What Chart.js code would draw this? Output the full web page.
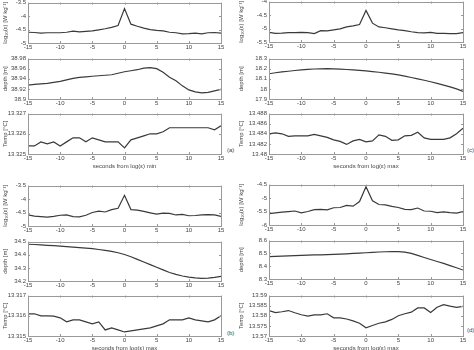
<!DOCTYPE html>
<html>
<head>
<meta charset="utf-8">
<script src="https://cdn.jsdelivr.net/npm/chart.js@4.4.1/dist/chart.umd.min.js"></script>
<style>
  body { margin: 0; background: #fff; }
  #wrap { position: relative; width: 474px; height: 350px; overflow: hidden; }
  canvas { position: absolute; }
  .tag { position: absolute; font: 6px "Liberation Sans", Arial, sans-serif; color: #444; }
</style>
</head>
<body>
<div id="wrap">
  <div class="tag" style="left:227px;top:147px">(a)</div>
  <div class="tag" style="left:227px;top:330px">(b)</div>
  <div class="tag" style="left:467px;top:147px">(c)</div>
  <div class="tag" style="left:467px;top:327px">(d)</div>
</div>
<script>
// seconds relative to the epsilon extreme
var seconds = [-15,-14,-13,-12,-11,-10,-9,-8,-7,-6,-5,-4,-3,-2,-1,0,1,2,3,4,5,6,7,8,9,10,11,12,13,14,15];

// (a) log(eps) min
var epsA = [-4.60,-4.61,-4.63,-4.62,-4.62,-4.62,-4.60,-4.56,-4.59,-4.57,-4.55,-4.51,-4.47,-4.42,-4.35,-3.72,-4.30,-4.38,-4.45,-4.50,-4.53,-4.55,-4.60,-4.62,-4.66,-4.65,-4.63,-4.66,-4.62,-4.61,-4.63];
var depthA = [38.9275,38.929,38.930,38.931,38.933,38.935,38.938,38.941,38.943,38.944,38.945,38.946,38.947,38.948,38.951,38.954,38.956,38.958,38.961,38.962,38.960,38.953,38.943,38.936,38.926,38.918,38.914,38.912,38.913,38.916,38.919];
var tempA = [13.3254,13.3254,13.3256,13.3255,13.3256,13.3254,13.3256,13.3258,13.3258,13.3256,13.3258,13.3257,13.3256,13.3256,13.3256,13.3253,13.3257,13.3258,13.3259,13.3260,13.3260,13.3261,13.3263,13.3263,13.3263,13.3263,13.3263,13.3263,13.3263,13.3262,13.3264];

// (b) log(eps) max
var epsB = [-4.59,-4.63,-4.65,-4.67,-4.64,-4.60,-4.59,-4.65,-4.66,-4.60,-4.50,-4.45,-4.48,-4.39,-4.34,-3.86,-4.39,-4.41,-4.46,-4.51,-4.56,-4.52,-4.53,-4.59,-4.57,-4.62,-4.61,-4.59,-4.58,-4.59,-4.64];
var depthB = [34.480,34.478,34.475,34.472,34.469,34.466,34.462,34.458,34.454,34.450,34.446,34.440,34.433,34.425,34.415,34.402,34.385,34.365,34.345,34.325,34.305,34.285,34.265,34.250,34.238,34.230,34.224,34.220,34.222,34.227,34.235];
var tempB = [13.3161,13.3161,13.3160,13.3160,13.31598,13.3159,13.3157,13.3158,13.3158,13.3157,13.3156,13.3157,13.3153,13.3154,13.3153,13.3152,13.31525,13.3153,13.31535,13.3154,13.3155,13.3156,13.3158,13.3158,13.3158,13.3159,13.3158,13.31575,13.3157,13.3158,13.3160];

// (c) log(eps) max
var epsC = [-5.14,-5.18,-5.17,-5.15,-5.15,-5.14,-5.15,-5.19,-5.08,-5.09,-5.05,-5.01,-4.94,-4.90,-4.85,-4.33,-4.80,-4.94,-4.97,-5.01,-5.05,-5.08,-5.12,-5.15,-5.16,-5.14,-5.18,-5.18,-5.19,-5.19,-5.15];
var depthC = [18.150,18.160,18.168,18.175,18.182,18.188,18.193,18.197,18.199,18.200,18.199,18.196,18.192,18.188,18.184,18.178,18.172,18.165,18.157,18.148,18.138,18.126,18.113,18.100,18.086,18.071,18.055,18.038,18.020,18.000,17.975];
var tempC = [13.4840,13.4842,13.4840,13.4835,13.4836,13.4836,13.4836,13.4839,13.4836,13.4833,13.4828,13.4825,13.4819,13.4826,13.4829,13.4824,13.4826,13.4838,13.4835,13.4827,13.4828,13.4836,13.4837,13.4843,13.4832,13.4829,13.4829,13.4829,13.4832,13.4840,13.4851];

// (d) log(eps) max
var epsD = [-5.58,-5.55,-5.52,-5.50,-5.48,-5.55,-5.50,-5.43,-5.42,-5.44,-5.36,-5.35,-5.27,-5.30,-5.13,-4.58,-5.10,-5.24,-5.25,-5.31,-5.35,-5.42,-5.43,-5.37,-5.48,-5.49,-5.54,-5.51,-5.54,-5.56,-5.50];
var depthD = [8.475,8.477,8.479,8.481,8.483,8.485,8.487,8.488,8.489,8.490,8.492,8.494,8.497,8.500,8.502,8.505,8.508,8.511,8.513,8.515,8.514,8.510,8.500,8.485,8.468,8.452,8.437,8.422,8.405,8.388,8.370];
var tempD = [13.5826,13.5816,13.5820,13.5826,13.5815,13.5805,13.5798,13.5805,13.5805,13.5810,13.5790,13.5790,13.5784,13.5775,13.5763,13.5741,13.5752,13.5763,13.5770,13.5782,13.5800,13.5810,13.5818,13.5839,13.5839,13.5816,13.5842,13.5855,13.5848,13.5842,13.5847];

var epsTitle = 'log\u2081\u2080(\u03b5) [W kg\u207b\u00b9]';

Chart.defaults.font.family = '"Liberation Sans", Arial, sans-serif';
Chart.defaults.font.size = 6;
Chart.defaults.color = '#444';

// matlab style box with inward ticks
var boxTicks = {
    id: 'boxTicks',
    afterDraw: function(chart) {
        var ctx = chart.ctx, a = chart.chartArea;
        var sx = chart.scales.x, sy = chart.scales.y;
        ctx.save();
        ctx.strokeStyle = '#999';
        ctx.lineWidth = 1;
        ctx.strokeRect(Math.round(a.left) + 0.5, Math.round(a.top) + 0.5, Math.round(a.width), Math.round(a.height));
        ctx.beginPath();
        sx.ticks.forEach(function(t) {
            var p = Math.round(sx.getPixelForValue(t.value)) + 0.5;
            ctx.moveTo(p, a.bottom); ctx.lineTo(p, a.bottom - 2);
            ctx.moveTo(p, a.top); ctx.lineTo(p, a.top + 2);
        });
        sy.ticks.forEach(function(t) {
            var p = Math.round(sy.getPixelForValue(t.value)) + 0.5;
            ctx.moveTo(a.left, p); ctx.lineTo(a.left + 2, p);
            ctx.moveTo(a.right, p); ctx.lineTo(a.right - 2, p);
        });
        ctx.stroke();
        ctx.restore();
    }
};

function makePanel(box, values, ymin, ymax, step, dec, ytitle, xtitle) {
    var yW = box.left < 100 ? 28 : 33;
    var xH = xtitle ? 16 : 11;
    var padTop = 4, padRight = 8;
    var cv = document.createElement('canvas');
    cv.width = box.w + yW + padRight;
    cv.height = box.h + padTop + xH;
    cv.style.left = (box.left - yW) + 'px';
    cv.style.top = (box.top - padTop) + 'px';
    document.getElementById('wrap').appendChild(cv);

    var pts = seconds.map(function(s, i) { return { x: s, y: values[i] }; });

    return new Chart(cv, {
        type: 'line',
        data: {
            datasets: [{
                data: pts,
                borderColor: '#3a3a3a',
                borderWidth: 1.2,
                pointRadius: 0,
                tension: 0,
                fill: false
            }]
        },
        options: {
            responsive: false,
            animation: false,
            layout: { padding: { top: padTop, right: padRight, left: 0, bottom: 0 } },
            plugins: { legend: { display: false }, tooltip: { enabled: false } },
            scales: {
                x: {
                    type: 'linear', min: -15, max: 15,
                    grid: { display: false, drawTicks: false },
                    border: { display: false },
                    ticks: { stepSize: 5, autoSkip: false, maxRotation: 0, padding: 1 },
                    title: { display: !!xtitle, text: xtitle || '', padding: { top: 0, bottom: 0 } },
                    afterFit: function(s) { s.height = xH; }
                },
                y: {
                    min: ymin, max: ymax,
                    grid: { display: false, drawTicks: false },
                    border: { display: false },
                    ticks: {
                        stepSize: step, autoSkip: false, padding: 2,
                        callback: function(v) { return String(Number(v.toFixed(dec))); }
                    },
                    title: { display: true, text: ytitle, padding: { top: 2, bottom: 0 } },
                    afterFit: function(s) { s.width = yW; }
                }
            }
        },
        plugins: [boxTicks]
    });
}

var L = 28, R = 269, LW = 193, RW = 194;

makePanel({ left: L, top: 1, w: LW, h: 42 }, epsA, -5, -3.5, 0.5, 1, epsTitle);
makePanel({ left: L, top: 57, w: LW, h: 42 }, depthA, 38.9, 38.98, 0.02, 2, 'depth [m]');
makePanel({ left: L, top: 112, w: LW, h: 42 }, tempA, 13.325, 13.327, 0.001, 3, 'Temp [\u00b0C]', 'seconds from log(\u03b5) min');

makePanel({ left: L, top: 184, w: LW, h: 42 }, epsB, -5, -3.5, 0.5, 1, epsTitle);
makePanel({ left: L, top: 240, w: LW, h: 41 }, depthB, 34.2, 34.5, 0.1, 1, 'depth [m]');
makePanel({ left: L, top: 294, w: LW, h: 42 }, tempB, 13.315, 13.317, 0.001, 3, 'Temp [\u00b0C]', 'seconds from log(\u03b5) max');

makePanel({ left: R, top: 0, w: RW, h: 42 }, epsC, -5.5, -4, 0.5, 1, epsTitle);
makePanel({ left: R, top: 57, w: RW, h: 42 }, depthC, 17.9, 18.3, 0.1, 1, 'depth [m]');
makePanel({ left: R, top: 112, w: RW, h: 42 }, tempC, 13.48, 13.488, 0.002, 3, 'Temp [\u00b0C]', 'seconds from log(\u03b5) max');

makePanel({ left: R, top: 183, w: RW, h: 42 }, epsD, -6, -4.5, 0.5, 1, epsTitle);
makePanel({ left: R, top: 239, w: RW, h: 40 }, depthD, 8.3, 8.6, 0.1, 1, 'depth [m]');
makePanel({ left: R, top: 294, w: RW, h: 42 }, tempD, 13.57, 13.59, 0.005, 3, 'Temp [\u00b0C]', 'seconds from log(\u03b5) max');
</script>
</body>
</html>
